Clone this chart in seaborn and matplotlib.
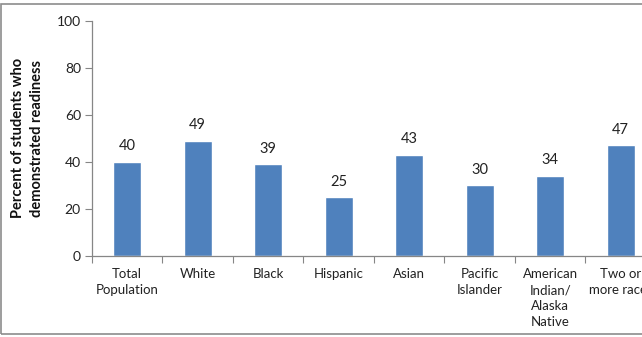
import matplotlib
matplotlib.use("Agg")
import matplotlib.pyplot as plt
import seaborn as sns
import pandas as pd
from matplotlib.patches import Rectangle

categories = ["Total\nPopulation", "White", "Black", "Hispanic", "Asian",
              "Pacific\nIslander", "American\nIndian/\nAlaska\nNative",
              "Two or\nmore races"]
values = [40, 49, 39, 25, 43, 30, 34, 47]
y_ticks = [0, 20, 40, 60, 80, 100]
y_label = "Percent of students who\ndemonstrated readiness"

sns.set_theme(style="white")
plt.rcParams["font.family"] = ["Lato", "DejaVu Sans"]

W, H = 642, 337
fig = plt.figure(figsize=(W / 100, H / 100), dpi=100)
ax = fig.add_axes([92 / W, (H - 255.7) / H, 564 / W, 235 / H])

df = pd.DataFrame({"group": categories, "pct": values})
sns.barplot(data=df, x="group", y="pct", color="#4F81BD", saturation=1,
            width=0.4, ax=ax)

axis_col = "#868686"
ax.set_xlim(-0.5, len(categories) - 0.5)
ax.set_ylim(0, 100)
ax.set_yticks(y_ticks)
ax.set_yticklabels([str(t) for t in y_ticks], fontsize=10, color="#222222")

# category boundaries as major ticks, labels centred on minor ticks
ax.set_xticks([i - 0.5 for i in range(len(categories) + 1)])
ax.set_xticklabels([])
ax.set_xticks(range(len(categories)), minor=True)
ax.set_xticklabels(categories, minor=True, fontsize=9.5, color="#222222",
                   linespacing=1.4, va="top")
ax.tick_params(axis="x", which="major", length=5, width=0.8, color=axis_col,
               direction="out", bottom=True)
ax.tick_params(axis="x", which="minor", length=0, pad=9, bottom=True)
ax.tick_params(axis="y", length=5, width=0.8, color=axis_col,
               direction="out", left=True, pad=3)

for s in ["top", "right"]:
    ax.spines[s].set_visible(False)
for s in ["left", "bottom"]:
    ax.spines[s].set_color(axis_col)
    ax.spines[s].set_linewidth(0.9)

ax.set_xlabel("")
ax.set_ylabel(y_label, fontsize=10.5, fontweight="bold", color="#111111",
              labelpad=9, linespacing=1.5)

for i, v in enumerate(values):
    ax.annotate(str(v), (i, v), xytext=(0, 6), textcoords="offset points",
                ha="center", va="bottom", fontsize=10.5, color="#222222")

# outer frame around the chart area
fig.patches.append(Rectangle((1.5 / W, 3 / H), 700 / W, 330 / H,
                             transform=fig.transFigure, fill=False,
                             edgecolor="#8c8c8c", linewidth=1.2))

fig.savefig("out.png", dpi=100)
